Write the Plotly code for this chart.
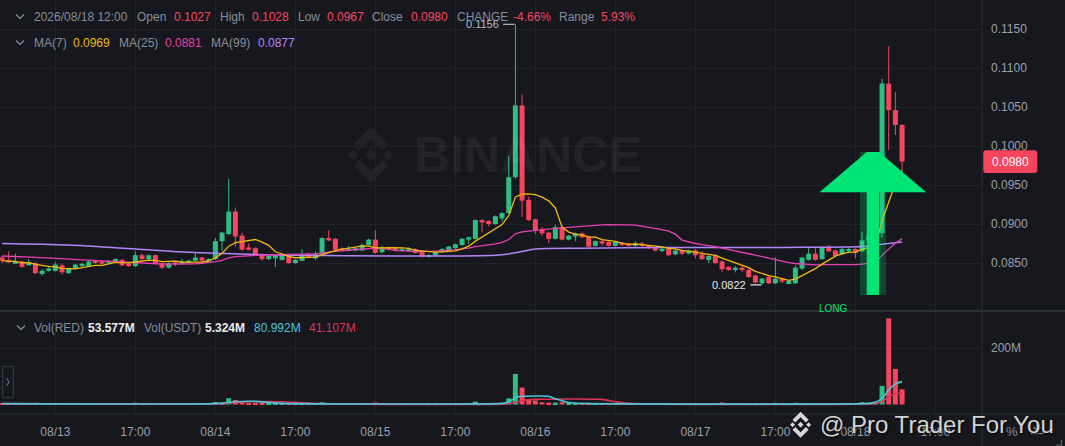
import numpy as np
import pandas as pd
import plotly.graph_objects as go

# ---------------- data (1h candles) ----------------
opens = [
    0.0857, 0.0854, 0.0849, 0.0852, 0.0847, 0.0850, 0.0836, 0.0840, 0.0840, 0.0847,
    0.0837, 0.0843, 0.0846, 0.0846, 0.0853, 0.0852, 0.0851, 0.0851, 0.0854, 0.0849,
    0.0846, 0.0860, 0.0855, 0.0860, 0.0850, 0.0844, 0.0851, 0.0849, 0.0851, 0.0853,
    0.0857, 0.0852, 0.0855, 0.0878, 0.0887, 0.0916, 0.0885, 0.0870, 0.0869, 0.0861,
    0.0855, 0.0856, 0.0854, 0.0859, 0.0850, 0.0853, 0.0862, 0.0856, 0.0862, 0.0882,
    0.0881, 0.0869, 0.0866, 0.0866, 0.0866, 0.0873, 0.0880, 0.0864, 0.0870, 0.0869,
    0.0866, 0.0866, 0.0868, 0.0865, 0.0858, 0.0860, 0.0864, 0.0866, 0.0869, 0.0873,
    0.0880, 0.0881, 0.0905, 0.0904, 0.0900, 0.0907, 0.0914, 0.0960, 0.1052, 0.0931,
    0.0906, 0.0893, 0.0889, 0.0881, 0.0896, 0.0880, 0.0884, 0.0888, 0.0884, 0.0872,
    0.0878, 0.0877, 0.0872, 0.0876, 0.0875, 0.0872, 0.0875, 0.0872, 0.0870, 0.0866,
    0.0869, 0.0861, 0.0866, 0.0862, 0.0866, 0.0861, 0.0854, 0.0860, 0.0852, 0.0845,
    0.0841, 0.0844, 0.0841, 0.0834, 0.0824, 0.0832, 0.0824, 0.0830, 0.0823, 0.0824,
    0.0843, 0.0854, 0.0862, 0.0855, 0.0871, 0.0866, 0.0861, 0.0865, 0.0868, 0.0865,
    0.0879, 0.0885, 0.0888, 0.1080, 0.1046, 0.1027]
highs = [
    0.0859, 0.0865, 0.0862, 0.0853, 0.0855, 0.0851, 0.0842, 0.0845, 0.0851, 0.0849,
    0.0844, 0.0849, 0.0850, 0.0854, 0.0854, 0.0853, 0.0854, 0.0856, 0.0855, 0.0850,
    0.0865, 0.0862, 0.0861, 0.0861, 0.0851, 0.0851, 0.0852, 0.0855, 0.0854, 0.0862,
    0.0858, 0.0856, 0.0882, 0.0890, 0.0958, 0.0921, 0.0889, 0.0875, 0.0870, 0.0862,
    0.0860, 0.0860, 0.0862, 0.0860, 0.0855, 0.0868, 0.0863, 0.0865, 0.0883, 0.0892,
    0.0882, 0.0870, 0.0872, 0.0871, 0.0875, 0.0881, 0.0892, 0.0872, 0.0871, 0.0870,
    0.0869, 0.0870, 0.0869, 0.0866, 0.0861, 0.0865, 0.0869, 0.0872, 0.0875, 0.0882,
    0.0884, 0.0906, 0.0906, 0.0905, 0.0911, 0.0915, 0.0987, 0.1156, 0.1066, 0.0935,
    0.0907, 0.0896, 0.0890, 0.0899, 0.0898, 0.0886, 0.0889, 0.0889, 0.0885, 0.0879,
    0.0880, 0.0878, 0.0878, 0.0877, 0.0876, 0.0878, 0.0877, 0.0873, 0.0871, 0.0869,
    0.0870, 0.0868, 0.0867, 0.0867, 0.0868, 0.0865, 0.0860, 0.0861, 0.0853, 0.0846,
    0.0846, 0.0846, 0.0843, 0.0835, 0.0831, 0.0833, 0.0857, 0.0831, 0.0828, 0.0847,
    0.0858, 0.0871, 0.0869, 0.0872, 0.0873, 0.0867, 0.0871, 0.0869, 0.0869, 0.0890,
    0.0888, 0.0892, 0.1086, 0.1128, 0.1069, 0.1028]
lows = [
    0.0850, 0.0850, 0.0849, 0.0844, 0.0847, 0.0836, 0.0834, 0.0839, 0.0839, 0.0835,
    0.0836, 0.0842, 0.0845, 0.0845, 0.0849, 0.0848, 0.0850, 0.0850, 0.0846, 0.0845,
    0.0845, 0.0854, 0.0854, 0.0849, 0.0842, 0.0843, 0.0846, 0.0848, 0.0850, 0.0852,
    0.0852, 0.0851, 0.0854, 0.0866, 0.0886, 0.0871, 0.0866, 0.0866, 0.0859, 0.0853,
    0.0854, 0.0845, 0.0853, 0.0849, 0.0849, 0.0852, 0.0856, 0.0854, 0.0861, 0.0878,
    0.0866, 0.0865, 0.0865, 0.0865, 0.0865, 0.0872, 0.0862, 0.0862, 0.0866, 0.0865,
    0.0865, 0.0865, 0.0862, 0.0857, 0.0857, 0.0859, 0.0863, 0.0865, 0.0868, 0.0872,
    0.0874, 0.0880, 0.0889, 0.0897, 0.0899, 0.0903, 0.0913, 0.0958, 0.0909, 0.0904,
    0.0887, 0.0885, 0.0876, 0.0880, 0.0879, 0.0879, 0.0878, 0.0882, 0.0870, 0.0871,
    0.0872, 0.0871, 0.0871, 0.0872, 0.0871, 0.0871, 0.0869, 0.0868, 0.0865, 0.0864,
    0.0859, 0.0860, 0.0860, 0.0861, 0.0856, 0.0854, 0.0850, 0.0849, 0.0838, 0.0840,
    0.0838, 0.0838, 0.0831, 0.0824, 0.0822, 0.0823, 0.0823, 0.0824, 0.0823, 0.0823,
    0.0841, 0.0853, 0.0853, 0.0854, 0.0864, 0.0858, 0.0860, 0.0864, 0.0856, 0.0864,
    0.0877, 0.0880, 0.0882, 0.0995, 0.1014, 0.0967]
closes = [
    0.0853, 0.0851, 0.0852, 0.0845, 0.0851, 0.0837, 0.0840, 0.0843, 0.0848, 0.0838,
    0.0843, 0.0848, 0.0849, 0.0852, 0.0850, 0.0849, 0.0852, 0.0855, 0.0847, 0.0846,
    0.0860, 0.0855, 0.0860, 0.0850, 0.0844, 0.0850, 0.0848, 0.0852, 0.0853, 0.0857,
    0.0853, 0.0855, 0.0878, 0.0889, 0.0916, 0.0884, 0.0867, 0.0867, 0.0860, 0.0855,
    0.0859, 0.0859, 0.0860, 0.0850, 0.0854, 0.0861, 0.0857, 0.0862, 0.0882, 0.0879,
    0.0867, 0.0866, 0.0868, 0.0869, 0.0873, 0.0880, 0.0863, 0.0869, 0.0867, 0.0866,
    0.0868, 0.0868, 0.0863, 0.0858, 0.0860, 0.0864, 0.0868, 0.0871, 0.0874, 0.0881,
    0.0883, 0.0905, 0.0902, 0.0900, 0.0910, 0.0914, 0.0960, 0.1052, 0.0930, 0.0905,
    0.0892, 0.0888, 0.0881, 0.0896, 0.0880, 0.0885, 0.0888, 0.0883, 0.0871, 0.0878,
    0.0875, 0.0872, 0.0877, 0.0873, 0.0872, 0.0875, 0.0872, 0.0869, 0.0866, 0.0868,
    0.0860, 0.0866, 0.0862, 0.0866, 0.0860, 0.0855, 0.0859, 0.0850, 0.0842, 0.0841,
    0.0844, 0.0841, 0.0832, 0.0825, 0.0830, 0.0824, 0.0830, 0.0826, 0.0827, 0.0844,
    0.0857, 0.0862, 0.0854, 0.0870, 0.0865, 0.0859, 0.0868, 0.0868, 0.0863, 0.0879,
    0.0885, 0.0886, 0.1080, 0.1046, 0.1027, 0.0980]
volumes_m = [
    4, 5, 3, 4, 3, 6, 3, 2, 4, 5,
    3, 3, 2, 4, 2, 2, 1, 3, 4, 2,
    6, 3, 2, 4, 4, 3, 2, 2, 2, 4,
    3, 2, 9, 7, 22, 16, 8, 4, 5, 4,
    3, 4, 3, 4, 2, 5, 3, 3, 8, 5,
    5, 3, 2, 2, 4, 4, 7, 3, 2, 2,
    2, 2, 3, 3, 2, 2, 3, 3, 3, 5,
    3, 10, 5, 3, 5, 4, 22, 108, 60, 19,
    14, 8, 7, 7, 8, 4, 4, 3, 6, 4,
    3, 3, 3, 2, 2, 2, 2, 2, 3, 2,
    4, 3, 2, 2, 4, 4, 3, 5, 7, 3,
    3, 3, 5, 5, 4, 4, 6, 2, 2, 6,
    5, 4, 3, 4, 3, 3, 3, 2, 3, 8,
    6, 10, 66, 305, 126, 53.6]

# MA(25) at the left edge (needs history before the window)
ma25_head_k = [0, 6, 12, 18]
ma25_head_v = [0.0859, 0.0857, 0.0854, 0.0851]
# MA(99)
ma99_k = [0, 10, 20, 30, 44, 59, 74, 77, 80, 87, 99, 117, 129, 132, 135]
ma99_v = [0.0875, 0.0873, 0.0868, 0.0863, 0.0860, 0.0859, 0.0860, 0.0863,
          0.0868, 0.0869, 0.0870, 0.0870, 0.0871, 0.0874, 0.0877]
# volume moving averages (millions)
vma_a_k = [0, 32, 34, 35, 38, 40, 42, 75, 76, 77, 78, 82, 83, 85, 87, 130, 131, 132, 133, 134, 135]
vma_a_v = [3, 3, 7, 10, 11, 7, 4, 4, 8, 24, 29, 29, 20, 7, 4, 4, 8, 22, 52, 73, 81]
vma_b_k = [0, 33, 35, 37, 42, 45, 48, 76, 78, 80, 90, 92, 94, 131, 132, 133, 134, 135]
vma_b_v = [3, 3, 7, 10, 10, 6, 3, 3, 14, 18, 18, 10, 4, 4, 10, 28, 38, 41]

tick_idx = [8, 20, 32, 44, 56, 68, 80, 92, 104, 116, 128, 140]
tick_labels = ["08/13", "17:00", "08/14", "17:00", "08/15", "17:00",
               "08/16", "17:00", "08/17", "17:00", "08/18", "17:00"]
price_ticks = [0.0850, 0.0900, 0.0950, 0.1000, 0.1050, 0.1100, 0.1150]
vol_ticks = [200]
vol_tick_labels = ["200M"]

header_texts = ["2026/08/18 12:00", "Open", "0.1027", "High", "0.1028", "Low", "0.0967",
                "Close", "0.0980", "CHANGE", "-4.66%", "Range", "5.93%"]
ma_texts = ["MA(7)", "0.0969", "MA(25)", "0.0881", "MA(99)", "0.0877"]
vol_texts = ["Vol(RED)", "53.577M", "Vol(USDT)", "5.324M", "80.992M", "41.107M"]
signal_text = "LONG"
watermark_text = "@ Pro Trader For You"

# ---------------- styling / geometry ----------------
W, H = 1065, 446
MR, MB = 83, 32
PW, PH = W - MR, H - MB
MAIN_PX = 311                       # main pane height in px
MAIN_BOTTOM = (PH - MAIN_PX) / PH

x_range = [-0.3075, 146.99]
price_range = [0.078846, 0.118718]
vol_range = [-33.6, 331.0]
PPX = MAIN_PX / (price_range[1] - price_range[0])   # px per price unit

BG = "#17181e"
GRID = "#212329"
SEP = "#2b2f36"
GREEN = "#2ebd85"
RED = "#f6465d"
YEL = "#f0b90b"
PINK = "#e540b0"
PURP = "#b385f8"
CYAN = "#4fc3d6"
VRED = "#dc3457"
TXT = "#848e9c"
AX = "#9aa0a9"
FONT = "Liberation Sans"


def px(x):
    return x / PW


def py(y):
    return (PH - y) / PH


o = np.array(opens); hi = np.array(highs); lo = np.array(lows); c = np.array(closes)
vol = np.array(volumes_m, dtype=float)
N = len(c)
k = np.arange(N)
up = c >= o

ma7 = pd.Series(c).rolling(7, min_periods=1).mean()
ma25 = pd.Series(c).rolling(25).mean()
ma25_x = ma25_head_k + list(range(24, N))
ma25_y = ma25_head_v + list(ma25.iloc[24:])

fig = go.Figure()

# candle bodies
for mask, col in ((up, GREEN), (~up, RED)):
    fig.add_trace(go.Bar(x=k[mask], y=np.abs(c - o)[mask], base=np.minimum(o, c)[mask],
                         width=0.75, marker=dict(color=col, line=dict(width=0)),
                         xaxis="x", yaxis="y", hoverinfo="skip"))
# volume bars
for mask, col in ((up, GREEN), (~up, RED)):
    fig.add_trace(go.Bar(x=k[mask], y=vol[mask], width=0.75,
                         marker=dict(color=col, line=dict(width=0)),
                         xaxis="x2", yaxis="y2", hoverinfo="skip"))
# wicks
for mask, col in ((up, GREEN), (~up, RED)):
    xs, ys = [], []
    for i in k[mask]:
        xs += [i, i, None]
        ys += [lo[i], hi[i], None]
    fig.add_trace(go.Scatter(x=xs, y=ys, mode="lines", line=dict(color=col, width=1),
                             xaxis="x", yaxis="y", hoverinfo="skip"))
# moving averages
fig.add_trace(go.Scatter(x=ma99_k, y=ma99_v, mode="lines",
                         line=dict(color=PURP, width=1.5, shape="spline", smoothing=0.8),
                         xaxis="x", yaxis="y", hoverinfo="skip"))
fig.add_trace(go.Scatter(x=ma25_x, y=ma25_y, mode="lines", line=dict(color=PINK, width=1.3),
                         xaxis="x", yaxis="y", hoverinfo="skip"))
fig.add_trace(go.Scatter(x=k, y=ma7, mode="lines", line=dict(color=YEL, width=1.3),
                         xaxis="x", yaxis="y", hoverinfo="skip"))
fig.add_trace(go.Scatter(x=vma_b_k, y=vma_b_v, mode="lines",
                         line=dict(color=VRED, width=1.6, shape="spline", smoothing=0.6),
                         xaxis="x2", yaxis="y2", hoverinfo="skip"))
fig.add_trace(go.Scatter(x=vma_a_k, y=vma_a_v, mode="lines",
                         line=dict(color=CYAN, width=1.6, shape="spline", smoothing=0.6),
                         xaxis="x2", yaxis="y2", hoverinfo="skip"))

shapes = []
annotations = []


def poly_px(pts):
    return "M " + " L ".join(f"{px(x):.5f},{py(y):.5f}" for x, y in pts) + " Z"


def logo(cx, cy, r, color, layer="above"):
    d = 0.22
    parts = [[(0, -d), (d, 0), (0, d), (-d, 0)]]
    for sx in (-0.62, 0.62):
        dd = 0.19
        parts.append([(sx, -dd), (sx + dd, 0), (sx, dd), (sx - dd, 0)])
    top = [(-0.62, -0.38), (0, -1.0), (0.62, -0.38), (0.41, -0.17), (0, -0.58), (-0.41, -0.17)]
    parts.append(top)
    parts.append([(x, -y) for x, y in top])
    for p in parts:
        shapes.append(dict(type="path", xref="paper", yref="paper", layer=layer,
                           path=poly_px([(cx + u * r, cy + v * r) for u, v in p]),
                           fillcolor=color, line=dict(width=0)))


def chevron(cx, cy, color=TXT):
    shapes.append(dict(type="path", xref="paper", yref="paper",
                       path=f"M {px(cx-4):.5f},{py(cy-2):.5f} L {px(cx):.5f},{py(cy+2):.5f} L {px(cx+4):.5f},{py(cy-2):.5f}",
                       line=dict(color=color, width=1.2)))


def text(t, xp, yp, color, size=12, anchor="left", bold=False, yanchor="middle", family=FONT):
    annotations.append(dict(text=f"<b>{t}</b>" if bold else t, x=px(xp), y=py(yp),
                            xref="paper", yref="paper", xanchor=anchor, yanchor=yanchor,
                            showarrow=False, font=dict(family=family, size=size, color=color)))


# background watermark
logo(371, 155, 28, "rgba(255,255,255,0.05)", layer="below")
text("BINANCE", 527.5, 155, "rgba(255,255,255,0.05)", size=50, anchor="center", bold=True)

# pane separators / axis lines
shapes.append(dict(type="line", xref="paper", yref="paper", x0=0, x1=W / PW,
                   y0=py(MAIN_PX), y1=py(MAIN_PX), line=dict(color=SEP, width=2)))
shapes.append(dict(type="line", xref="paper", yref="paper", x0=0, x1=W / PW,
                   y0=0, y1=0, line=dict(color=SEP, width=1)))
shapes.append(dict(type="line", xref="paper", yref="paper", x0=1, x1=1,
                   y0=py(H), y1=1, line=dict(color=SEP, width=1)))

# header rows
header_x = [31.6, 134.7, 171.7, 217.6, 250.4, 295.9, 324.9, 370.4, 409.1, 454.5, 510.5, 556.8, 598.5]
header_c = [TXT, TXT, RED, TXT, RED, TXT, RED, TXT, RED, TXT, RED, TXT, RED]
for t, xp, col in zip(header_texts, header_x, header_c):
    text(t, xp, 17, col)
chevron(20, 16.5)
ma_x = [31.6, 70.7, 116.6, 163.3, 209.2, 255.9]
ma_c = [TXT, YEL, TXT, PINK, TXT, PURP]
for t, xp, col in zip(ma_texts, ma_x, ma_c):
    text(t, xp, 43, col)
chevron(20, 42.5)
vol_x = [31.7, 86, 141.7, 203.3, 252.3, 307.3]
vol_c = [TXT, "#eaecef", TXT, "#eaecef", CYAN, VRED]
vol_b = [False, True, False, True, False, False]
for t, xp, col, b in zip(vol_texts, vol_x, vol_c, vol_b):
    text(t, xp, 328, col, bold=b)
chevron(21, 327.5)

# max / min labels
kmax = int(np.argmax(hi)); kmin = int(np.argmin(lo))
annotations.append(dict(text=f"{hi[kmax]:.4f}", x=kmax - 2.2, y=hi[kmax], xref="x", yref="y",
                        xanchor="right", yanchor="middle", showarrow=False,
                        font=dict(family=FONT, size=11, color="#b7bdc6")))
shapes.append(dict(type="line", xref="x", yref="y", x0=kmax - 1.85, x1=kmax - 0.1,
                   y0=hi[kmax], y1=hi[kmax], line=dict(color="#b7bdc6", width=1.2)))
annotations.append(dict(text=f"{lo[kmin]:.4f}", x=kmin - 2.1, y=lo[kmin], xref="x", yref="y",
                        xanchor="right", yanchor="middle", showarrow=False,
                        font=dict(family=FONT, size=11, color="#eaecef")))
shapes.append(dict(type="line", xref="x", yref="y", x0=kmin - 1.75, x1=kmin - 0.1,
                   y0=lo[kmin], y1=lo[kmin], line=dict(color="#eaecef", width=1.2)))

# LONG signal arrow (data coordinates)
sk = 130.62
bot, topp, base = 0.08090, 0.09923, 0.09406
shapes.append(dict(type="rect", xref="x", yref="y", x0=sk - 1.93, x1=sk + 1.97, y0=bot, y1=topp,
                   fillcolor="rgba(0,230,118,0.22)", line=dict(width=0)))
sw, hw = 0.92, 8.0
arrow = [(sk - hw, base), (sk - sw, topp), (sk + sw, topp), (sk + hw, base), (sk + sw, base),
         (sk + sw, bot), (sk - sw, bot), (sk - sw, base)]
shapes.append(dict(type="path", xref="x", yref="y",
                   path="M " + " L ".join(f"{x:.4f},{y:.5f}" for x, y in arrow) + " Z",
                   fillcolor="#00e676", line=dict(width=0)))
annotations.append(dict(text=signal_text, x=sk - 5.9, y=0.07920, xref="x", yref="y",
                        xanchor="center", yanchor="middle", showarrow=False,
                        font=dict(family=FONT, size=10, color="#00e676")))

# last price tag
cl = c[-1]
x0, x1 = px(983.3), px(1037.3)
hy = 11.3 / PPX
y0, y1 = cl - hy, cl + hy
rx, ry = px(3), 3 / PPX
tag = (f"M {x0+rx},{y1} L {x1-rx},{y1} Q {x1},{y1} {x1},{y1-ry} L {x1},{y0+ry} "
       f"Q {x1},{y0} {x1-rx},{y0} L {x0+rx},{y0} Q {x0},{y0} {x0},{y0+ry} "
       f"L {x0},{y1-ry} Q {x0},{y1} {x0+rx},{y1} Z")
shapes.append(dict(type="path", xref="paper", yref="y", path=tag, fillcolor=RED, line=dict(width=0)))
annotations.append(dict(text=f"{cl:.4f}", x=(x0 + x1) / 2, y=cl, xref="paper", yref="y",
                        xanchor="center", yanchor="middle", showarrow=False,
                        font=dict(family=FONT, size=12, color="#ffffff")))

# left pane handle
shapes.append(dict(type="rect", xref="paper", yref="paper", x0=px(2.7), x1=px(13.3),
                   y0=py(397.3), y1=py(366.7), line=dict(color="#3a3f47", width=1),
                   fillcolor="rgba(0,0,0,0)"))
shapes.append(dict(type="path", xref="paper", yref="paper",
                   path=f"M {px(6.5)},{py(378.5)} L {px(9.3)},{py(382)} L {px(6.5)},{py(385.5)}",
                   line=dict(color=TXT, width=1)))

# bottom-right icons
text("%", 1011.5, 431, TXT, size=13, anchor="center")
shapes.append(dict(type="line", xref="paper", yref="paper", x0=px(1037), x1=px(1037),
                   y0=py(430), y1=py(421), line=dict(color=TXT, width=1.2)))
shapes.append(dict(type="path", xref="paper", yref="paper",
                   path=f"M {px(1033.5)},{py(427)} L {px(1037)},{py(430.5)} L {px(1040.5)},{py(427)}",
                   line=dict(color=TXT, width=1.2)))
shapes.append(dict(type="line", xref="paper", yref="paper", x0=px(1031), x1=px(1043),
                   y0=py(433.5), y1=py(433.5), line=dict(color=TXT, width=1.2)))
shapes.append(dict(type="path", xref="paper", yref="paper",
                   path=f"M {px(1061.5)},{py(440)} L {px(1061.5)},{py(445)} L {px(1056.5)},{py(445)}",
                   line=dict(color="#5e6673", width=1.2)))

# foreground watermark
logo(800.6, 424.7, 13, "rgba(232,232,232,0.92)")
annotations.append(dict(text=watermark_text, x=px(1056), y=py(424.5), xref="paper", yref="paper",
                        xanchor="right", yanchor="middle", showarrow=False,
                        font=dict(family=FONT, size=24, color="rgba(232,232,232,0.92)",
                                  shadow="1px 1px 2px #000000")))

axis_font = dict(family=FONT, size=12, color=AX)
fig.update_layout(
    width=W, height=H, margin=dict(l=0, r=MR, t=0, b=MB, autoexpand=False),
    paper_bgcolor=BG, plot_bgcolor=BG, showlegend=False, barmode="overlay",
    hovermode=False, shapes=shapes, annotations=annotations,
    xaxis=dict(domain=[0, 1], anchor="y", range=x_range, tickvals=tick_idx, ticktext=tick_labels,
               showticklabels=False, showgrid=True, gridcolor=GRID, gridwidth=1,
               zeroline=False, showline=False, ticks="", fixedrange=True),
    xaxis2=dict(domain=[0, 1], anchor="y2", matches="x", range=x_range, tickvals=tick_idx,
                ticktext=tick_labels, showticklabels=True, tickfont=axis_font,
                showgrid=True, gridcolor=GRID, gridwidth=1, zeroline=False, showline=False,
                ticks="", ticklabelstandoff=9, automargin=False, fixedrange=True),
    yaxis=dict(domain=[MAIN_BOTTOM, 1], anchor="x", side="right", range=price_range,
               tickvals=price_ticks, tickformat=".4f", tickfont=axis_font, showgrid=True,
               gridcolor=GRID, gridwidth=1, zeroline=False, showline=False, ticks="",
               ticklabelstandoff=8, automargin=False, fixedrange=True),
    yaxis2=dict(domain=[0, MAIN_BOTTOM], anchor="x2", side="right", range=vol_range,
                tickvals=vol_ticks, ticktext=vol_tick_labels, tickfont=axis_font, showgrid=True,
                gridcolor=GRID, gridwidth=1, zeroline=False, showline=False, ticks="",
                ticklabelstandoff=8, automargin=False, fixedrange=True),
)

fig.write_html("out.html", config={"displayModeBar": False},
               post_script="document.body.style.margin='0';document.body.style.background='#17181e';document.body.style.overflow='hidden';")
